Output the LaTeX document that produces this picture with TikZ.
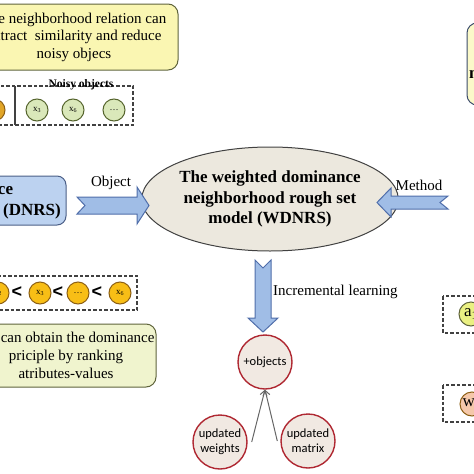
\documentclass[tikz,border=0pt]{standalone}
\usepackage{fontspec}
\setmainfont{Liberation Serif}
\newfontfamily\fuentecal{Carlito}
\newfontfamily\fuentesans{Liberation Sans}
\usepackage{xcolor}
\usetikzlibrary{calc,shapes.geometric,arrows.meta,positioning}
\definecolor{amarillo}{RGB}{250,246,178}
\definecolor{amarilloverde}{RGB}{240,244,206}
\definecolor{oliva}{RGB}{95,100,60}
\definecolor{azulclaro}{RGB}{188,210,240}
\definecolor{azulborde}{RGB}{75,95,135}
\definecolor{beige}{RGB}{236,232,222}
\definecolor{verdeclaro}{RGB}{218,232,186}
\definecolor{verdeborde}{RGB}{85,100,45}
\definecolor{naranja}{RGB}{248,190,22}
\definecolor{naranjaborde}{RGB}{140,95,20}
\definecolor{rosado}{RGB}{241,233,226}
\definecolor{rojoborde}{RGB}{175,40,50}
\definecolor{flechaazul}{RGB}{160,189,230}
\definecolor{flechaborde}{RGB}{80,110,170}
\definecolor{limon}{RGB}{234,240,130}
\definecolor{durazno}{RGB}{245,200,170}
\definecolor{gristrazo}{RGB}{65,65,65}
\tikzstyle{rectamarillo} = [rectangle, rounded corners=10pt, align=center, draw=oliva, line width=1pt, fill=amarillo, inner sep=0pt, font=\fontsize{15}{17.5}\selectfont]
\tikzstyle{rectverde} = [rectangle, rounded corners=10pt, align=center, draw=oliva, line width=1pt, fill=amarilloverde, inner sep=0pt, font=\fontsize{15}{18}\selectfont]
\tikzstyle{rectazul} = [rectangle, rounded corners=9pt, align=center, draw=azulborde, line width=1pt, fill=azulclaro, font=\bfseries\fontsize{17}{21}\selectfont]
\tikzstyle{elipse} = [ellipse, minimum width=206pt, minimum height=104pt, inner sep=0pt, align=center, draw=gristrazo, line width=1pt, fill=beige, font=\bfseries\fontsize{17}{20.5}\selectfont]
\tikzstyle{circverde} = [circle, minimum size=22pt, inner sep=0pt, draw=verdeborde, line width=1pt, fill=verdeclaro, font=\fontsize{9}{9}\selectfont]
\tikzstyle{circnaranja} = [circle, minimum size=22pt, inner sep=0pt, draw=naranjaborde, line width=1pt, fill=naranja, font=\fontsize{9}{9}\selectfont]
\tikzstyle{circroja} = [circle, minimum size=54pt, inner sep=0pt, align=center, draw=rojoborde, line width=1.4pt, fill=rosado, font=\fuentecal\fontsize{12.5}{15}\selectfont]
\tikzstyle{circletra} = [circle, minimum size=24pt, inner sep=0pt, draw=oliva, line width=1pt, font=\fontsize{17}{17}\selectfont]
\tikzstyle{caja} = [draw=gristrazo, line width=1.2pt, dash pattern=on 3.5pt off 2pt]
\tikzstyle{menor} = [inner sep=0pt, font=\fuentesans\bfseries\fontsize{18}{18}\selectfont]
\tikzstyle{etiqueta} = [inner sep=0pt, font=\fontsize{15}{18}\selectfont]
\tikzstyle{flechabloque} = [draw=flechaborde, line width=1pt, fill=flechaazul, line join=miter]
\tikzstyle{flechagris} = [draw=gray!80!black, line width=1pt, -{Straight Barb[length=5pt,width=7pt]}]

\begin{document}
\begin{tikzpicture}[x=1pt, y=-1pt]
	\useasboundingbox (0,0) rectangle (474,474);
	\clip (0,0) rectangle (474,474);
	% Cuadros
	\node (vecindad) [rectamarillo, minimum width=208pt, minimum height=66pt] at (74,37) {The neighborhood relation can\\ extract\ \ similarity and reduce\\ noisy objecs};
	\node (dnrs) [rectazul, minimum width=188pt, minimum height=49pt] at (-28,200.5) {Dominance\\ rough set model (DNRS)};
	\node (wdnrs) [elipse] at (270,199) {The weighted dominance\\ neighborhood rough set\\ model (WDNRS)};
	\node (ranking) [rectverde, minimum width=180pt, minimum height=63pt] at (66,355.5) {We can obtain the dominance\\ priciple by ranking\\ atributes-values};
	\node (metodo) [rectamarillo, fill=amarillo!70!white, draw=azulborde!80!black, minimum width=110pt, minimum height=82pt] at (522,64) {};
	\node (metodotxt) [anchor=west, inner sep=0pt, font=\bfseries\fontsize{17}{20}\selectfont] at (469,73) {method};
	% Objetos ruidosos
	\draw[caja] (-100,86) rectangle (133,125);
	\draw[gristrazo, line width=1.2pt] (15,86) -- (15,125);
	\node (ruido) [inner sep=0pt, font=\bfseries\fontsize{11.5}{12}\selectfont] at (81,85) {Noisy objects};
	\node (x2a) [circnaranja, fill=naranja!60!brown] at (-6,110) {};
	\node (x3a) [circverde] at (37,110) {x\textsubscript{3}};
	\node (x6a) [circverde] at (73,110) {x\textsubscript{6}};
	\node (puntosa) [circverde] at (114,110) {\ldots};
	% Orden de dominancia
	\draw[caja] (-60,276) rectangle (137,310);
	\node (x2b) [circnaranja] at (-2,293) {x\textsubscript{2}};
	\node (m1) [menor] at (17,292) {<};
	\node (x3b) [circnaranja] at (40,293) {x\textsubscript{3}};
	\node (m2) [menor] at (58,292) {<};
	\node (puntosb) [circnaranja] at (78,293) {\ldots};
	\node (m3) [menor] at (97,292) {<};
	\node (x6b) [circnaranja] at (120,293) {x\textsubscript{6}};
	% Cajas de la derecha
	\draw[caja] (443,296) rectangle (530,333);
	\node (a1) [circletra, fill=limon] at (471,314) {a\textsubscript{1}};
	\draw[caja] (443,385) rectangle (530,422);
	\node (w1) [circletra, fill=durazno, draw=naranjaborde] at (472,404) {w\textsubscript{1}};
	% Aprendizaje incremental
	\node (objetos) [circroja] at (265,362) {+objects};
	\node (pesos) [circroja] at (220,442) {updated\\ weights};
	\node (matriz) [circroja] at (308,441) {updated\\ matrix};
	% Flechas
	\draw[flechabloque] (77,197) -- (137,197) -- (137,187) -- (149,205.5) -- (137,224) -- (137,214) -- (77,214) -- (85,205.5) -- cycle;
	\draw[flechabloque] (448,196) -- (391,196) -- (391,188) -- (377,202.5) -- (391,217) -- (391,209) -- (448,209) -- (440,202.5) -- cycle;
	\draw[flechabloque] (255,260) -- (263,268) -- (271,260) -- (271,318) -- (278,318) -- (263,332) -- (248,318) -- (255,318) -- cycle;
	\node (lobjeto) [etiqueta] at (111,183) {Object};
	\node (lmetodo) [etiqueta] at (419,185) {Method};
	\node (lincremental) [etiqueta, anchor=west] at (273,292) {Incremental learning};
	\draw[flechagris] ($(pesos.east)+(4,0)$) -- (objetos.south);
	\draw[flechagris] ($(matriz.west)+(-3,0)$) -- (objetos.south);
\end{tikzpicture}
\end{document}
